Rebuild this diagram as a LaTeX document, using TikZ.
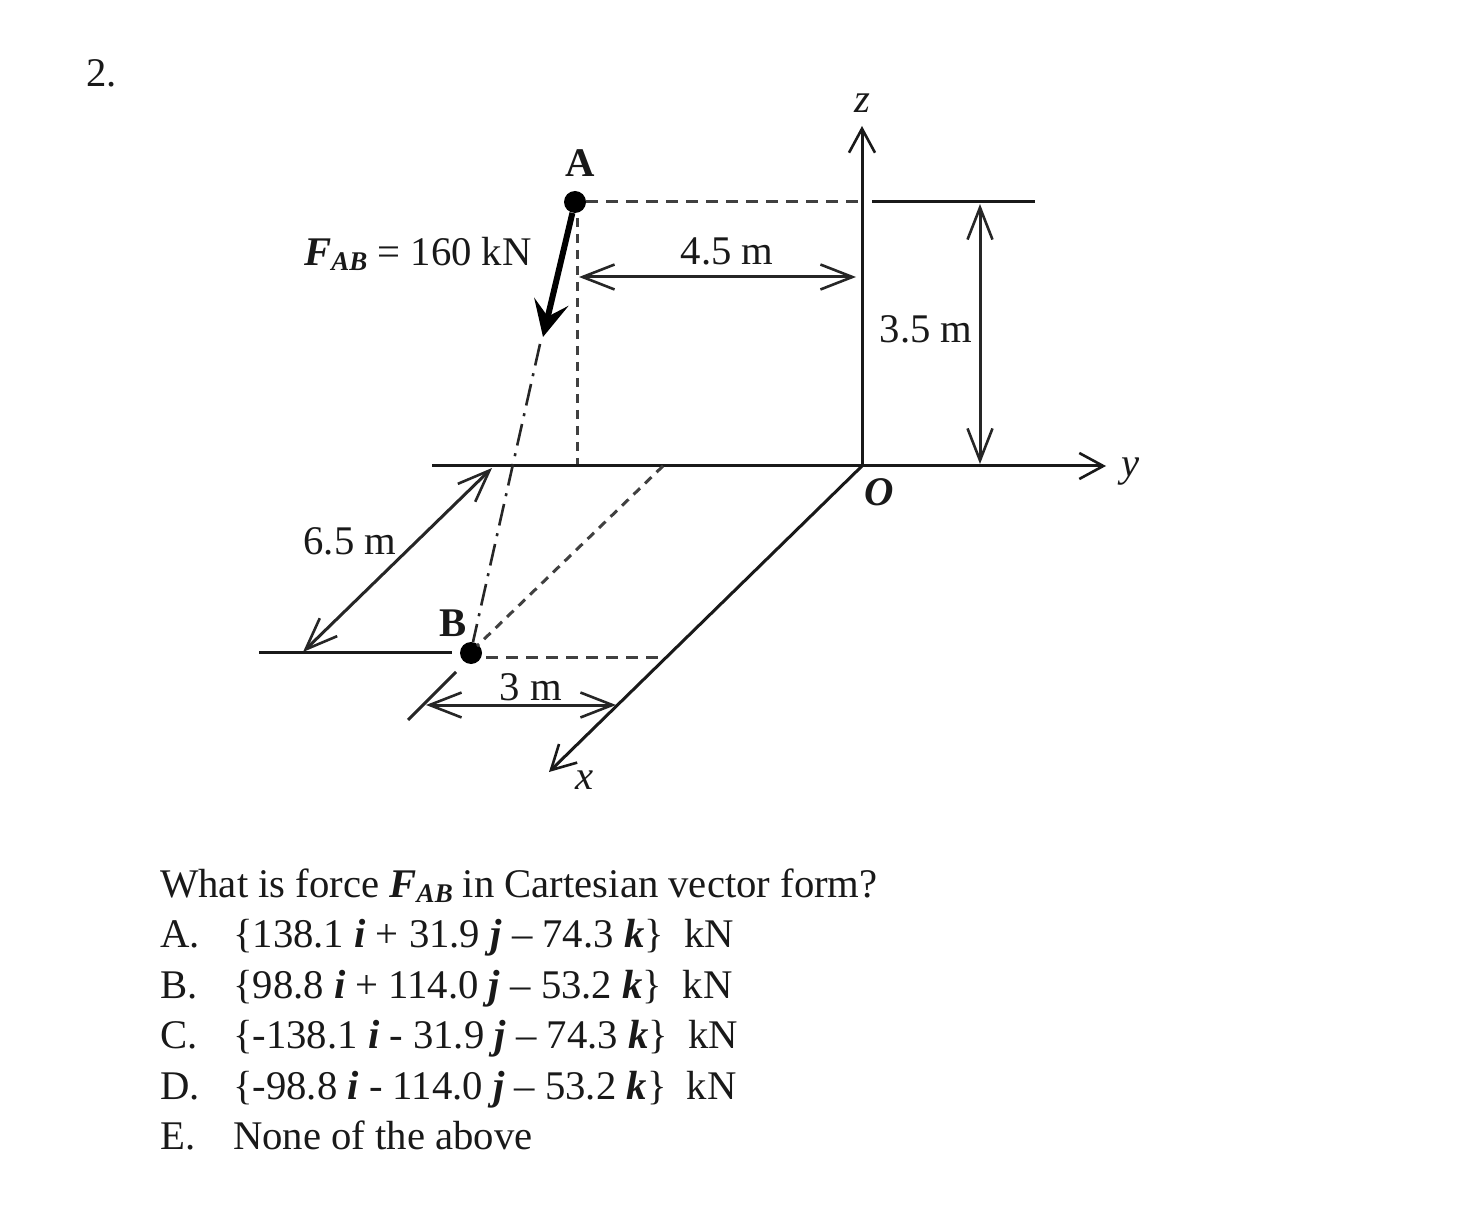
\documentclass[tikz,border=0pt]{standalone}
\usepackage{fontspec}
\setmainfont{Liberation Serif}
\usetikzlibrary{arrows.meta}
\tikzset{
 ln/.style={line width=3pt,draw=black!90},
 dimline/.style={line width=3pt,draw=black!85},
 dsh/.style={line width=3pt,draw=black!75,dash pattern=on 9pt off 7pt},
 dashdot/.style={line width=2.6pt,draw=black!85,dash pattern=on 22pt off 8pt on 3pt off 8pt},
 arr/.style={-{Straight Barb[length=24pt,width=26pt,line width=2.6pt]}},
 arrs/.style={{Straight Barb[length=32pt,width=25pt,line width=2.6pt]}-{Straight Barb[length=32pt,width=25pt,line width=2.6pt]}},
 dot/.style={circle,fill=black,inner sep=0pt,minimum size=22pt},
 lab/.style={font=\fontsize{40.7}{40.7}\selectfont,inner sep=0pt,text=black!90},
 opt/.style={font=\fontsize{40.7}{40.7}\selectfont,inner sep=0pt,anchor=base west,text=black!90}
}
\newcommand{\bi}[1]{\textbf{\textit{#1}}}
\begin{document}
\begin{tikzpicture}[x=1pt,y=-1pt]
\useasboundingbox (0,0) rectangle (1465,1214);
\node[lab,anchor=base west,font=\fontsize{40.7}{40.7}\selectfont] (num) at (86,87) {2.};
% key points
\node[dot] (A) at (575,202) {};
\node[dot] (B) at (471,653) {};
\coordinate (O) at (862,466);
\coordinate (zt) at (862,126);
\coordinate (yt) at (1106,466);
\coordinate (yl) at (432,466);
\coordinate (xt) at (549,772);
\coordinate (fa) at (543,337);
\coordinate (fab) at (540,344);
\coordinate (ddA) at (862,202);
\coordinate (dimT) at (872,202);
\coordinate (dimTe) at (1035,202);
\coordinate (v0) at (577,218);
\coordinate (v1) at (577,464);
\coordinate (p1) at (663,466);
\coordinate (p1b) at (477,646);
\coordinate (p2a) at (486,657);
\coordinate (p2) at (662,657);
\coordinate (bb) at (473,642);
\coordinate (Bl) at (259,652);
\coordinate (Ble) at (452,652);
% axes
\draw[ln,arr] (O) -- (zt);
\draw[ln,arr] (yl) -- (yt);
\draw[ln,arr] (O) -- (xt);
% dashed
\draw[dsh,dash pattern=on 12pt off 8pt] (A) -- (ddA);
\draw[dsh] (v0) -- (v1);
\draw[dsh] (p1) -- (p1b);
\draw[dsh,dash pattern=on 12pt off 8pt] (p2a) -- (p2);
\draw[dashdot] (fab) -- (bb);
% force
\draw[line width=6pt,-{Stealth[length=36pt,width=35pt,inset=15pt]}] (A) -- (fa);
% dim lines
\draw[ln] (dimT) -- (dimTe);
\coordinate (d35a) at (980,204); \coordinate (d35b) at (980,464);
\draw[dimline,arrs] (d35a) -- (d35b);
\coordinate (d45a) at (579,277); \coordinate (d45b) at (856,277);
\draw[dimline,arrs] (d45a) -- (d45b);
\coordinate (d65a) at (492,468); \coordinate (d65b) at (303,652);
\draw[dimline,arrs] (d65a) -- (d65b);
\draw[ln] (Bl) -- (Ble);
\coordinate (d3a) at (426,705); \coordinate (d3b) at (616,705);
\draw[dimline,arrs] (d3a) -- (d3b);
\coordinate (t1) at (456,672); \coordinate (t2) at (408,720);
\draw[dimline] (t1) -- (t2);
% labels
\node[lab] (lz) at (862,103) {\textit{z}};
\node[lab] (ly) at (1131,472) {\textit{y}};
\node[lab] (lx) at (585,780) {\textit{x}};
\node[lab] (lO) at (879,492) {\bi{O}};
\node[lab] (lA) at (580,163) {\textbf{A}};
\node[lab] (lB) at (453,623) {\textbf{B}};
\node[lab,anchor=base west] (lF) at (304,266) {\bi{F}\raisebox{-5pt}{\fontsize{27}{27}\selectfont\bi{AB}} = 160 kN};
\node[lab] (l45) at (727,251) {4.5 m};
\node[lab] (l35) at (926,329) {3.5 m};
\node[lab] (l65) at (350,541) {6.5 m};
\node[lab] (l3) at (531,687) {3 m};
% question
\node[opt] (q) at (160,897) {What is force \bi{F}\raisebox{-5pt}{\fontsize{27}{27}\selectfont\bi{AB}} in Cartesian vector form?};
\node[opt] (a) at (160,947) {A.};
\node[opt] (at) at (233,947) {\{138.1 \bi{i} + 31.9 \bi{j} – 74.3 \bi{k}\}\ \ kN};
\node[opt] (b) at (160,998) {B.};
\node[opt] (bt) at (233,998) {\{98.8 \bi{i} + 114.0 \bi{j} – 53.2 \bi{k}\}\ \ kN};
\node[opt] (c) at (160,1048) {C.};
\node[opt] (ct) at (233,1048) {\{-138.1 \bi{i} - 31.9 \bi{j} – 74.3 \bi{k}\}\ \ kN};
\node[opt] (d) at (160,1099) {D.};
\node[opt] (dt) at (233,1099) {\{-98.8 \bi{i} - 114.0 \bi{j} – 53.2 \bi{k}\}\ \ kN};
\node[opt] (e) at (160,1149) {E.};
\node[opt] (et) at (233,1149) {None of the above};
\end{tikzpicture}
\end{document}
